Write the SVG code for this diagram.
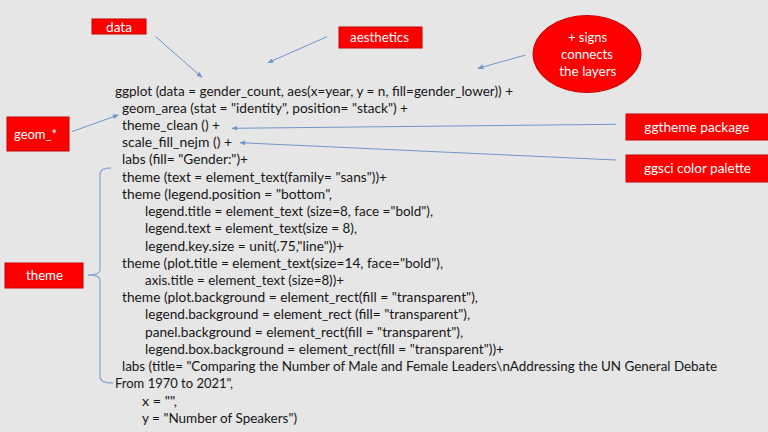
<svg xmlns="http://www.w3.org/2000/svg" width="768" height="432" viewBox="0 0 768 432">
<style>
.code{font-family:Lato,"Liberation Sans",sans-serif;font-size:13.8px;fill:#161616}
.lbl{font-family:Lato,"Liberation Sans",sans-serif;font-size:13.8px;fill:#ffffff}
.box{fill:#ff0000;stroke:#c80000;stroke-width:1}
.con{fill:none;stroke:#6f95c8;stroke-width:1}
.brace{fill:none;stroke:#8eaad6;stroke-width:1.3}
</style>
<defs>
<marker id="ah" viewBox="0 0 10 10" refX="9" refY="5" markerWidth="6" markerHeight="6" markerUnits="userSpaceOnUse" orient="auto">
<path d="M0,1 L10,5 L0,9 z" fill="#6f95c8"/>
</marker>
</defs>
<rect width="768" height="432" fill="#e7e6e6"/>

<g id="connectors">
<line class="con" x1="155.7" y1="36.7" x2="202" y2="77.3" marker-end="url(#ah)"/>
<line class="con" x1="327" y1="36.7" x2="268" y2="62.7" marker-end="url(#ah)"/>
<line class="con" x1="525.7" y1="55" x2="478" y2="68.3" marker-end="url(#ah)"/>
<line class="con" x1="71.7" y1="131.7" x2="118.3" y2="115" marker-end="url(#ah)"/>
<line class="con" x1="616" y1="124.3" x2="232" y2="128.3" marker-end="url(#ah)"/>
<line class="con" x1="616" y1="160" x2="240" y2="142.7" marker-end="url(#ah)"/>
<path class="brace" d="M111,168 Q100,168 100,174 V270 Q100,275 88,275 Q100,275 100,280 V377 Q100,383 113,383"/>
</g>

<g id="node-data">
<rect class="box" x="92" y="19" width="54" height="15"/>
<text class="lbl" x="106" y="31.5" textLength="26" lengthAdjust="spacingAndGlyphs">data</text>
</g>
<g id="node-aesthetics">
<rect class="box" x="339" y="27" width="83" height="21"/>
<text class="lbl" x="350" y="42" textLength="59" lengthAdjust="spacingAndGlyphs">aesthetics</text>
</g>
<g id="node-signs">
<ellipse cx="587" cy="54" rx="54" ry="38.5" fill="#ff0000" stroke="#c80000" stroke-width="1"/>
<text class="lbl" x="568" y="41.5" textLength="39" lengthAdjust="spacingAndGlyphs">+ signs</text>
<text class="lbl" x="561" y="58.5" textLength="52" lengthAdjust="spacingAndGlyphs">connects</text>
<text class="lbl" x="559.3" y="76" textLength="57" lengthAdjust="spacingAndGlyphs">the layers</text>
</g>
<g id="node-geom">
<rect class="box" x="7" y="117" width="62" height="34"/>
<text class="lbl" x="14" y="138.5" textLength="43" lengthAdjust="spacingAndGlyphs">geom_*</text>
</g>
<g id="node-theme">
<rect class="box" x="5" y="263" width="78" height="25"/>
<text class="lbl" x="26" y="280" textLength="37" lengthAdjust="spacingAndGlyphs">theme</text>
</g>
<g id="node-ggtheme">
<rect class="box" x="626" y="114" width="146" height="26"/>
<text class="lbl" x="644.3" y="131.5" textLength="105" lengthAdjust="spacingAndGlyphs">ggtheme package</text>
</g>
<g id="node-ggsci">
<rect class="box" x="626" y="155" width="146" height="27"/>
<text class="lbl" x="644" y="173" textLength="107" lengthAdjust="spacingAndGlyphs">ggsci color palette</text>
</g>

<g id="code">
<text class="code" x="115" y="95.5" textLength="398" lengthAdjust="spacingAndGlyphs">ggplot (data = gender_count, aes(x=year, y = n, fill=gender_lower)) +</text>
<text class="code" x="122" y="112.7" textLength="286" lengthAdjust="spacingAndGlyphs">geom_area (stat = "identity", position= "stack") +</text>
<text class="code" x="122" y="129.9" textLength="98" lengthAdjust="spacingAndGlyphs">theme_clean () +</text>
<text class="code" x="122" y="147.2" textLength="110" lengthAdjust="spacingAndGlyphs">scale_fill_nejm () +</text>
<text class="code" x="122" y="164.4" textLength="126" lengthAdjust="spacingAndGlyphs">labs (fill= "Gender:")+</text>
<text class="code" x="122" y="181.6" textLength="265" lengthAdjust="spacingAndGlyphs">theme (text = element_text(family= "sans"))+</text>
<text class="code" x="122" y="198.8" textLength="210" lengthAdjust="spacingAndGlyphs">theme (legend.position = "bottom",</text>
<text class="code" x="145" y="216" textLength="288" lengthAdjust="spacingAndGlyphs">legend.title = element_text (size=8, face ="bold"),</text>
<text class="code" x="145" y="233.3" textLength="212" lengthAdjust="spacingAndGlyphs">legend.text = element_text(size = 8),</text>
<text class="code" x="145" y="250.5" textLength="199" lengthAdjust="spacingAndGlyphs">legend.key.size = unit(.75,"line"))+</text>
<text class="code" x="122" y="267.7" textLength="321" lengthAdjust="spacingAndGlyphs">theme (plot.title = element_text(size=14, face="bold"),</text>
<text class="code" x="145" y="284.9" textLength="199" lengthAdjust="spacingAndGlyphs">axis.title = element_text (size=8))+</text>
<text class="code" x="122" y="302.1" textLength="356" lengthAdjust="spacingAndGlyphs">theme (plot.background = element_rect(fill = "transparent"),</text>
<text class="code" x="145" y="319.4" textLength="325" lengthAdjust="spacingAndGlyphs">legend.background = element_rect (fill= "transparent"),</text>
<text class="code" x="145" y="336.6" textLength="318" lengthAdjust="spacingAndGlyphs">panel.background = element_rect(fill = "transparent"),</text>
<text class="code" x="145" y="353.8" textLength="359" lengthAdjust="spacingAndGlyphs">legend.box.background = element_rect(fill = "transparent"))+</text>
<text class="code" x="122" y="371" textLength="595" lengthAdjust="spacingAndGlyphs">labs (title= "Comparing the Number of Male and Female Leaders\nAddressing the UN General Debate</text>
<text class="code" x="115" y="388.2" textLength="118" lengthAdjust="spacingAndGlyphs">From 1970 to 2021",</text>
<text class="code" x="142" y="405.5" textLength="35" lengthAdjust="spacingAndGlyphs">x = "",</text>
<text class="code" x="142" y="422.7" textLength="155" lengthAdjust="spacingAndGlyphs">y = "Number of Speakers")</text>
</g>
</svg>
